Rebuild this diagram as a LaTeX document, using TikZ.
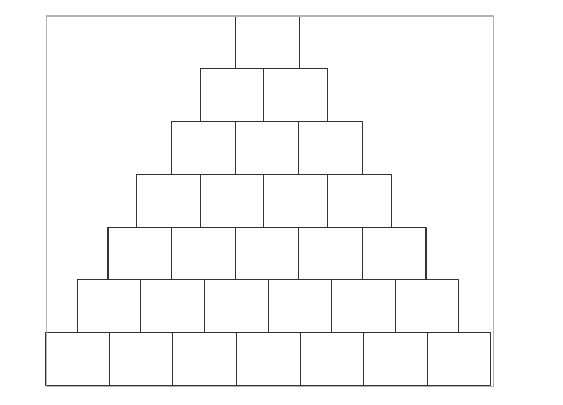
\documentclass[tikz,border=0pt]{standalone}
\begin{document}
\begin{tikzpicture}[x=0.75pt,y=-0.75pt,line join=round,line cap=round]
\def\w{63.6}
\def\h{52.76}
\useasboundingbox (0,0) rectangle (563,404);
% rows of the pyramid, top to bottom: row/left x/boxes
\foreach \r/\x/\n in {0/235.7/1,1/200.3/2,2/171.7/3,3/136.7/4,4/108/5,5/77.3/6,6/45.7/7}{
  \foreach \i in {1,...,\n}{
    \draw[black!80,line width=0.8pt] ({\x+(\i-1)*\w},{16+\r*\h}) rectangle ++(\w,\h);
  }
}
\draw[black!30,line width=0.8pt] (46.3,16) rectangle (493.3,386.7);
\end{tikzpicture}
\end{document}
